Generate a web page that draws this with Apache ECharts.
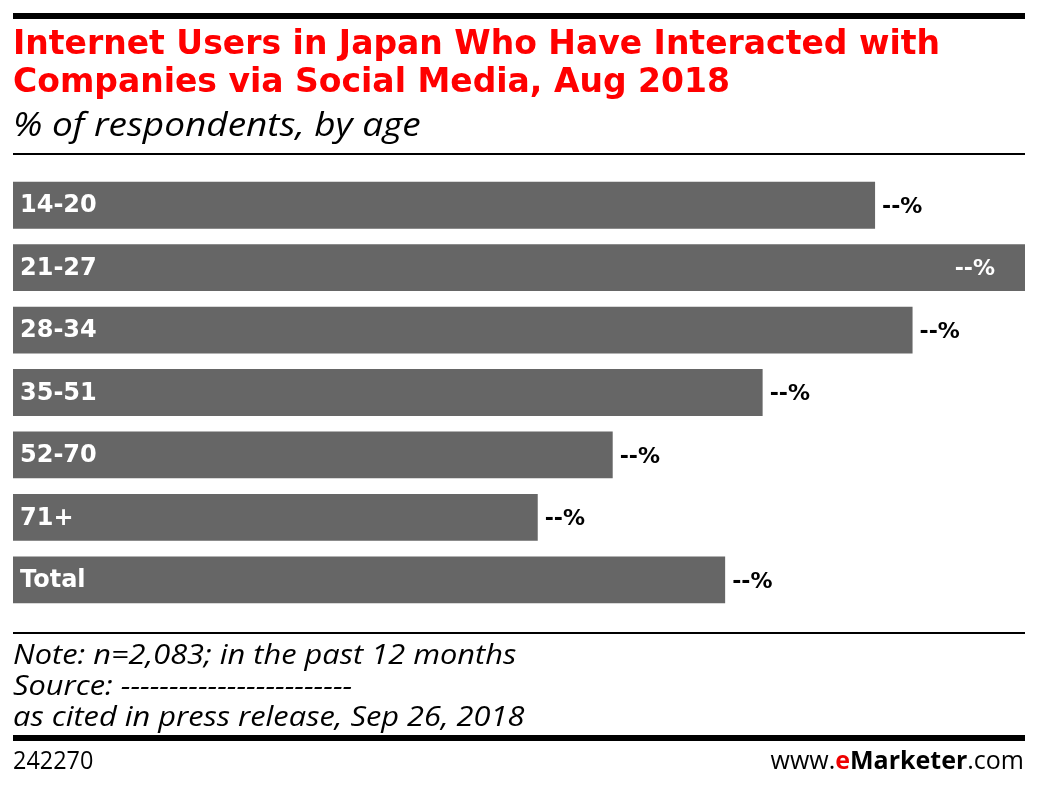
<!DOCTYPE html>
<html><head><meta charset="utf-8">
<script src="https://cdn.jsdelivr.net/npm/echarts@6/dist/echarts.min.js"></script>
<style>html,body{margin:0;padding:0;background:#fff}#c{width:1038px;height:788px}</style>
</head><body><div id="c"></div>
<script>
var categories = ['14-20','21-27','28-34','35-51','52-70','71+','Total'];
var values = [23, 27, 24, 20, 16, 14, 19];
var valueLabels = ['--%','--%','--%','--%','--%','--%','--%'];

var chart = echarts.init(document.getElementById('c'), null, {renderer:'canvas'});
var maxV = Math.max.apply(null, values);
var mainData = values.map(function(v,i){
  var d = {value: v};
  if (v === maxV) d.label = {position:'insideRight', color:'#fff', distance:30};
  return d;
});
chart.setOption({
  animation:false,
  grid:{left:13, right:13, top:174, bottom:177, containLabel:false},
  xAxis:{type:'value', min:0, max:maxV, show:false},
  yAxis:{type:'category', data:categories, inverse:true, show:false},
  series:[
    {type:'bar', data:mainData, barCategoryGap:'25%', barGap:'-100%',
     itemStyle:{color:'#666666'},
     label:{show:true, position:'right', distance:7, color:'#000', fontFamily:'DejaVu Sans', fontWeight:'bold', fontSize:22, offset:[0,2],
            formatter:function(p){return valueLabels[p.dataIndex];}}},
    {type:'bar', data:values, barCategoryGap:'25%', barGap:'-100%',
     itemStyle:{color:'rgba(0,0,0,0)'}, silent:true,
     label:{show:true, position:'insideLeft', distance:7, color:'#fff', fontFamily:'DejaVu Sans', fontWeight:'bold', fontSize:24, offset:[0,1],
            formatter:'{b}'}}
  ],
  graphic:[
    {type:'rect', shape:{x:13,y:13,width:1012,height:6}, style:{fill:'#000'}},
    {type:'text', x:13, y:26, style:{text:'Internet Users in Japan Who Have Interacted with\nCompanies via Social Media, Aug 2018', fill:'#ff0000', font:'bold 33px "DejaVu Sans"', lineHeight:38}},
    {type:'text', x:13, y:110, scaleX:1.12, style:{text:'% of respondents, by age', fill:'#000', font:'italic 33px "Open Sans"'}},
    {type:'rect', shape:{x:13,y:153,width:1012,height:2}, style:{fill:'#000'}},
    {type:'rect', shape:{x:13,y:632,width:1012,height:2}, style:{fill:'#000'}},
    {type:'text', x:13, y:641, scaleX:1.10, style:{text:'Note: n=2,083; in the past 12 months\nSource: ------------------------\nas cited in press release, Sep 26, 2018', fill:'#000', font:'italic 28px "Open Sans"', lineHeight:31}},
    {type:'rect', shape:{x:13,y:735,width:1012,height:6}, style:{fill:'#000'}},
    {type:'text', x:13, y:749, scaleX:0.9, style:{text:'242270', fill:'#000', font:'26px "Open Sans"'}},
    {type:'text', x:1024, y:749, style:{align:'right', rich:{a:{font:'25px "Open Sans"', fill:'#000'}, b:{font:'bold 25px "Open Sans"', fill:'#e00'}, c:{font:'bold 25px "Open Sans"', fill:'#000'}}, text:'{a|www.}{b|e}{c|Marketer}{a|.com}'}}
  ]
});
</script></body></html>
